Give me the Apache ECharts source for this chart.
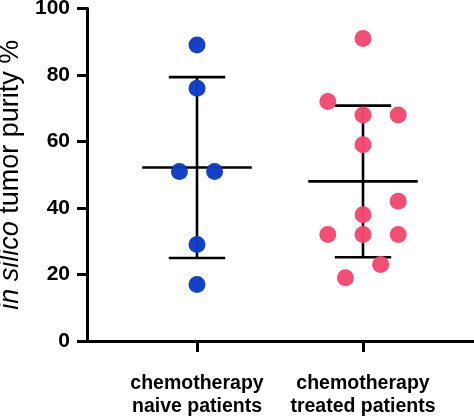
<!DOCTYPE html>
<html>
<head>
<meta charset="utf-8">
<script src="https://cdn.jsdelivr.net/npm/echarts@6/dist/echarts.min.js"></script>
<style>html,body{margin:0;padding:0;background:#fff}#c{width:474px;height:417px}</style>
</head>
<body>
<div id="c"></div>
<script>
// ---- data ----
var categories = ['chemotherapy\nnaive patients', 'chemotherapy\ntreated patients'];
var naiveValues = [89, 76, 51, 51, 29, 17];
var naiveSlots = [0, 0, -1, 1, 0, 0];
var treatedValues = [91, 72, 68, 68, 59, 42, 38, 32, 32, 32, 23, 19];
var treatedSlots = [0, -2, 0, 2, 0, 2, 0, -2, 0, 2, 1, -1];
var yTicks = [0, 20, 40, 60, 80, 100];

var colors = ['#0D3BC4', '#F5486F'];
var slotStep = 0.106;

function stats(arr) {
  var n = arr.length, m = arr.reduce(function (a, b) { return a + b; }, 0) / n;
  var v = arr.reduce(function (a, b) { return a + (b - m) * (b - m); }, 0) / (n - 1);
  return [m, Math.sqrt(v)];
}
function pts(vals, slots, center) {
  return vals.map(function (v, i) { return [center + slots[i] * slotStep, v]; });
}
var sN = stats(naiveValues), sT = stats(treatedValues);
var summary = [[1, sN[0], sN[1]], [2, sT[0], sT[1]]];

var chart = echarts.init(document.getElementById('c'));
chart.setOption({
  animation: false,
  grid: { left: 87, right: 0, top: 8.5, bottom: 76, containLabel: false, outerBoundsMode: 'none' },
  xAxis: {
    type: 'value', min: 1 - 110 / 166, max: 1 + 277 / 166,
    splitLine: { show: false },
    axisLine: { show: true, onZero: false, lineStyle: { color: '#000', width: 3 } },
    axisTick: { show: true, customValues: [1, 2], length: 11, lineStyle: { color: '#000', width: 3 } },
    axisLabel: {
      customValues: [1, 2], margin: 31, color: '#000', fontSize: 19.5, fontWeight: 'bold',
      fontFamily: 'Liberation Sans, Arial, sans-serif', lineHeight: 23,
      formatter: function (v) { return categories[Math.round(v) - 1]; }
    }
  },
  yAxis: {
    type: 'value', min: 0, max: 100, interval: 20,
    splitLine: { show: false },
    axisLine: { show: true, lineStyle: { color: '#000', width: 3 } },
    axisTick: { show: true, length: 10, lineStyle: { color: '#000', width: 3 } },
    axisLabel: {
      margin: 17, color: '#000', fontSize: 21, fontWeight: 'bold',
      fontFamily: 'Liberation Sans, Arial, sans-serif',
      formatter: function (v) { return yTicks.indexOf(v) >= 0 ? String(v) : ''; }
    },
    name: '{i|in silico} {n|tumor purity %}',
    nameLocation: 'middle', nameGap: 53,
    nameTextStyle: {
      color: '#000', fontSize: 27, fontFamily: 'Liberation Sans, Arial, sans-serif',
      rich: {
        i: { fontStyle: 'italic', fontSize: 27, color: '#000', fontFamily: 'Liberation Sans, Arial, sans-serif' },
        n: { fontSize: 27, color: '#000', fontFamily: 'Liberation Sans, Arial, sans-serif' }
      }
    }
  },
  series: [
    {
      type: 'custom', z: 2, data: summary,
      renderItem: function (params, api) {
        var x = api.value(0), m = api.value(1), sd = api.value(2);
        function seg(x1, y1, x2, y2) {
          var a = api.coord([x1, y1]), b = api.coord([x2, y2]);
          return { type: 'line', shape: { x1: a[0], y1: a[1], x2: b[0], y2: b[1] },
                   style: { stroke: '#000', lineWidth: 2.6 } };
        }
        return { type: 'group', children: [
          seg(x, m + sd, x, m - sd),
          seg(x - 0.33, m, x + 0.33, m),
          seg(x - 0.17, m + sd, x + 0.17, m + sd),
          seg(x - 0.17, m - sd, x + 0.17, m - sd)
        ] };
      }
    },
    {
      type: 'scatter', z: 3, symbolSize: 17, data: pts(naiveValues, naiveSlots, 1),
      itemStyle: { color: colors[0], opacity: 0.97 }
    },
    {
      type: 'scatter', z: 3, symbolSize: 17, data: pts(treatedValues, treatedSlots, 2),
      itemStyle: { color: colors[1], opacity: 0.97 }
    }
  ]
});
</script>
</body>
</html>
